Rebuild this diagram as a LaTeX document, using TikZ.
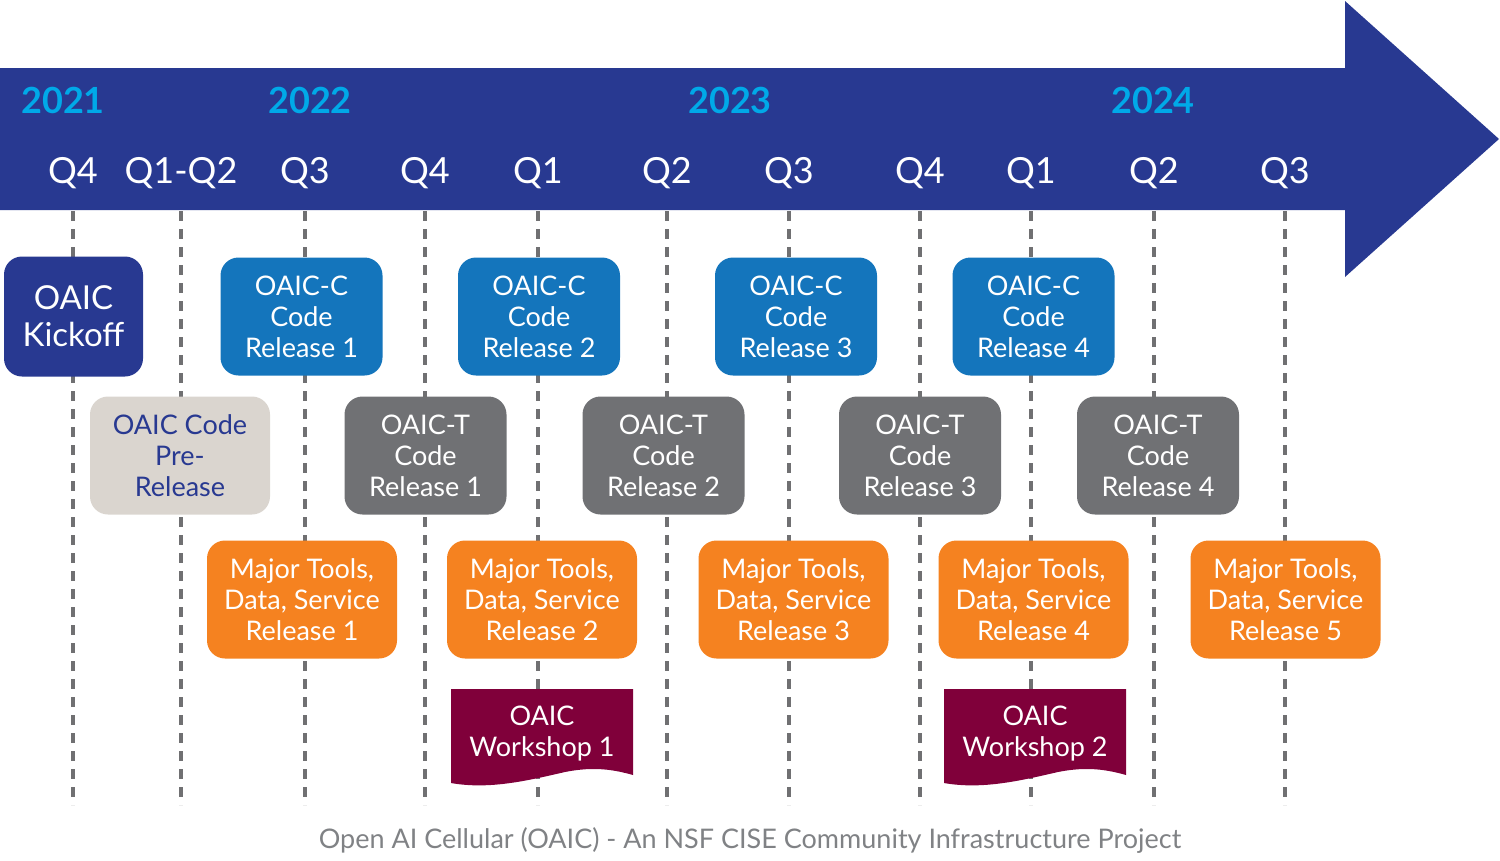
\documentclass[tikz,border=0pt]{standalone}
\usepackage{fontspec}
\setmainfont{Lato}
\usetikzlibrary{positioning,calc}
\definecolor{oaicnavy}{RGB}{40,57,145}
\definecolor{oaicsky}{RGB}{0,169,232}
\definecolor{oaicblue}{RGB}{20,117,188}
\definecolor{oaicgray}{RGB}{112,113,116}
\definecolor{oaicsand}{RGB}{218,213,207}
\definecolor{oaicorange}{RGB}{245,130,32}
\definecolor{oaicwine}{RGB}{128,0,58}
\definecolor{guidegray}{RGB}{112,112,114}
\definecolor{captiongray}{RGB}{128,130,133}
\newcommand{\oaicflag}[3]{%
  \fill[oaicwine] (#2-91,689) -- (#2+91,689) -- (#2+91,775)
    .. controls (#2+73,770) and (#2+53,766) .. (#2+23,772)
    .. controls (#2-12,780) and (#2-52,790) .. (#2-91,783) -- cycle;
  \node[wbox] (#1) at (#2,734) {#3};}

\begin{document}
\begin{tikzpicture}[x=1pt, y=-1pt,
    box/.style={rectangle, rounded corners=18pt, text=white, align=center,
                inner sep=0pt, minimum height=118pt,
                font=\fontsize{27}{31}\selectfont},
    cbox/.style={box, fill=oaicblue, minimum width=162pt},
    tbox/.style={box, fill=oaicgray, minimum width=162pt},
    mbox/.style={box, fill=oaicorange, minimum width=190pt},
    wbox/.style={text=white, align=center, inner sep=0pt,
                 font=\fontsize{27}{31}\selectfont},
    quarter/.style={text=white, font=\fontsize{36}{36}\selectfont},
    year/.style={text=oaicsky, font=\bfseries\fontsize{36}{36}\selectfont},
    guide/.style={guidegray, line width=4pt, dash pattern=on 10pt off 8pt}]
    \useasboundingbox (0,0) rectangle (1500,860);
    \fill[oaicnavy] (0,68) -- (1345,68) -- (1345,1) -- (1499,139)
        -- (1345,277) -- (1345,210) -- (0,210) -- cycle;
    \coordinate (top) at (0,211);
    \coordinate (bot) at (0,805);
    \foreach \x/\q [count=\i] in {73/Q4, 181/Q1-Q2, 305/Q3, 425/Q4, 538/Q1,
        667/Q2, 789/Q3, 920/Q4, 1031/Q1, 1154/Q2, 1285/Q3} {
        \node[quarter] (q\i) at (\x,173) {\q};
        \draw[guide] (q\i |- top) -- (q\i |- bot);
    }
    \foreach \x/\yr in {63/2021, 310/2022, 730/2023, 1153/2024}
        \node[year] (y\yr) at (\x,100) {\yr};

    \node[box, fill=oaicnavy, minimum width=139pt, minimum height=120pt,
          font=\fontsize{33}{37}\selectfont] (kick) at (73.5,316.5) {OAIC\\Kickoff};
    \node[box, fill=oaicsand, text=oaicnavy, minimum width=180pt]
          (pre) at (180,455.5) {OAIC Code\\Pre-\\Release};

    \node[cbox] (c1) at (301.5,316.5) {OAIC-C\\Code\\Release 1};
    \node[cbox] (c2) at (539,316.5) {OAIC-C\\Code\\Release 2};
    \node[cbox] (c3) at (796,316.5) {OAIC-C\\Code\\Release 3};
    \node[cbox] (c4) at (1033.5,316.5) {OAIC-C\\Code\\Release 4};

    \node[tbox] (t1) at (425.5,455.5) {OAIC-T\\Code\\Release 1};
    \node[tbox] (t2) at (663.5,455.5) {OAIC-T\\Code\\Release 2};
    \node[tbox] (t3) at (920,455.5) {OAIC-T\\Code\\Release 3};
    \node[tbox] (t4) at (1158,455.5) {OAIC-T\\Code\\Release 4};

    \node[mbox] (m1) at (302,599.5) {Major Tools,\\Data, Service\\Release 1};
    \node[mbox] (m2) at (542,599.5) {Major Tools,\\Data, Service\\Release 2};
    \node[mbox] (m3) at (793.5,599.5) {Major Tools,\\Data, Service\\Release 3};
    \node[mbox] (m4) at (1033.5,599.5) {Major Tools,\\Data, Service\\Release 4};
    \node[mbox] (m5) at (1285.5,599.5) {Major Tools,\\Data, Service\\Release 5};

    \oaicflag{w1}{542}{OAIC\\Workshop 1}
    \oaicflag{w2}{1035}{OAIC\\Workshop 2}

    \node[text=captiongray, font=\fontsize{27}{27}\selectfont] (caption)
          at (750,840) {Open AI Cellular (OAIC) - An NSF CISE Community Infrastructure Project};
\end{tikzpicture}
\end{document}
